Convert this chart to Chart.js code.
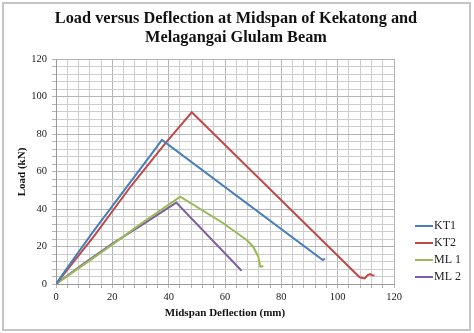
<!DOCTYPE html>
<html lang="en">

<head>
    <meta charset="UTF-8">
    <title>Load versus Deflection</title>
    <script src="https://cdn.jsdelivr.net/npm/chart.js@4"></script>
    <style>
        body { margin: 0; background: #fff; }
        #wrap { width: 474px; height: 333px; }
    </style>
</head>

<body>
    <div id="wrap"><canvas id="chart" width="474" height="333"></canvas></div>

    <script>
        // values (deflection mm, load kN)
        const kt1X = [0, 3, 13, 27, 35, 37.6, 94.7, 95.5];
        const kt1Y = [0, 6.5, 27.5, 55.5, 71.5, 76.8, 12.8, 13.6];
        const kt2X = [0, 13.5, 26.5, 38.8, 48.2, 107.8, 109.6, 110.7, 111.5, 112.2, 113.1];
        const kt2Y = [0, 25.5, 52, 75, 91.6, 3.6, 3.0, 4.8, 5.3, 4.7, 4.6];
        const ml1X = [0, 10, 20, 30, 44.1, 59.4, 67.7, 70, 71.8, 72.4, 72.6, 73.6];
        const ml1Y = [0, 10.5, 21, 32, 46.6, 32.4, 23.5, 19.9, 14.6, 10.1, 9.2, 9.6];
        const ml2X = [0, 10, 20, 30, 42.7, 65.9];
        const ml2Y = [0, 11, 21.5, 31, 43.4, 7.1];

        const seriesNames = ["KT1", "KT2", "ML 1", "ML 2"];
        const seriesColors = ["#4a7ebb", "#be4b48", "#98b954", "#7d60a0"];
        const xTicks = [0, 20, 40, 60, 80, 100, 120];
        const yTicks = [0, 20, 40, 60, 80, 100, 120];
        const titleLines = ["Load versus Deflection at Midspan of Kekatong and", "Melagangai Glulam Beam"];
        const xTitle = "Midspan Deflection (mm)";
        const yTitle = "Load (kN)";

        const FONT = "'Liberation Serif', 'Times New Roman', serif";

        function pts(xs, ys) {
            return xs.map((x, i) => ({ x: x, y: ys[i] }));
        }
        const allX = [kt1X, kt2X, ml1X, ml2X];
        const allY = [kt1Y, kt2Y, ml1Y, ml2Y];
        const datasets = seriesNames.map((name, i) => ({
            label: name,
            data: pts(allX[i], allY[i]),
            borderColor: seriesColors[i],
            backgroundColor: seriesColors[i],
            borderWidth: 2,
            pointRadius: 0,
            showLine: true,
            tension: 0
        }));

        // minor grid every 4 units, labels only on the listed ticks
        function gridTicks(list) {
            const out = [];
            for (let v = list[0]; v <= list[list.length - 1]; v += 4) out.push({ value: v });
            return out;
        }

        const decor = {
            id: "decor",
            beforeDraw(chart) {
                const c = chart.ctx;
                c.save();
                c.fillStyle = "#fff";
                c.fillRect(0, 0, chart.width, chart.height);
                c.strokeStyle = "#c4c4c4";
                c.lineWidth = 2;
                c.strokeRect(3, 3, 467, 327);
                c.restore();
            },
            afterDraw(chart) {
                const c = chart.ctx;
                const area = chart.chartArea;
                c.save();
                c.fillStyle = "#111";
                c.textAlign = "center";
                c.textBaseline = "middle";
                c.font = "bold 16.3px " + FONT;
                c.fillText(titleLines[0], 236, 19);
                c.fillText(titleLines[1], 236, 38);

                c.font = "bold 11px " + FONT;
                c.fillText(xTitle, (area.left + area.right) / 2, 313);
                c.translate(22, 172);
                c.rotate(-Math.PI / 2);
                c.fillText(yTitle, 0, 0);
                c.restore();

                // legend
                c.save();
                c.font = "12px " + FONT;
                c.textBaseline = "middle";
                c.textAlign = "left";
                const ys = [226, 243, 260, 277];
                chart.data.datasets.forEach((ds, i) => {
                    c.strokeStyle = ds.borderColor;
                    c.lineWidth = 2;
                    c.beginPath();
                    c.moveTo(415, ys[i]);
                    c.lineTo(433, ys[i]);
                    c.stroke();
                    c.fillStyle = "#222";
                    c.fillText(ds.label, 434, ys[i]);
                });
                c.restore();
            }
        };

        function gridColor(ctx) {
            return ctx.tick && ctx.tick.value % 20 === 0 ? "#b4b4b4" : "#cdcdcd";
        }

        new Chart(document.getElementById("chart"), {
            type: "scatter",
            data: { datasets: datasets },
            options: {
                responsive: false,
                animation: false,
                layout: { padding: { top: 59, right: 80, left: 0, bottom: 0 } },
                plugins: { legend: { display: false }, title: { display: false }, tooltip: { enabled: false } },
                scales: {
                    x: {
                        type: "linear",
                        min: xTicks[0],
                        max: xTicks[xTicks.length - 1],
                        afterBuildTicks: s => { s.ticks = gridTicks(xTicks); },
                        afterFit: s => { s.height = 49; },
                        grid: { color: gridColor, tickLength: 4, tickColor: "#b4b4b4" },
                        border: { color: "#999" },
                        ticks: {
                            autoSkip: false,
                            maxRotation: 0,
                            padding: 3,
                            color: "#222",
                            font: { family: FONT, size: 10.5 },
                            callback: v => xTicks.includes(v) ? String(v) : ""
                        }
                    },
                    y: {
                        type: "linear",
                        min: yTicks[0],
                        max: yTicks[yTicks.length - 1],
                        afterBuildTicks: s => { s.ticks = gridTicks(yTicks); },
                        afterFit: s => { s.width = 56; },
                        grid: { color: gridColor, tickLength: 4, tickColor: "#b4b4b4" },
                        border: { color: "#999" },
                        ticks: {
                            autoSkip: false,
                            padding: 5,
                            color: "#222",
                            font: { family: FONT, size: 10.5 },
                            callback: v => yTicks.includes(v) ? String(v) : ""
                        }
                    }
                }
            },
            plugins: [decor]
        });
    </script>
</body>

</html>
